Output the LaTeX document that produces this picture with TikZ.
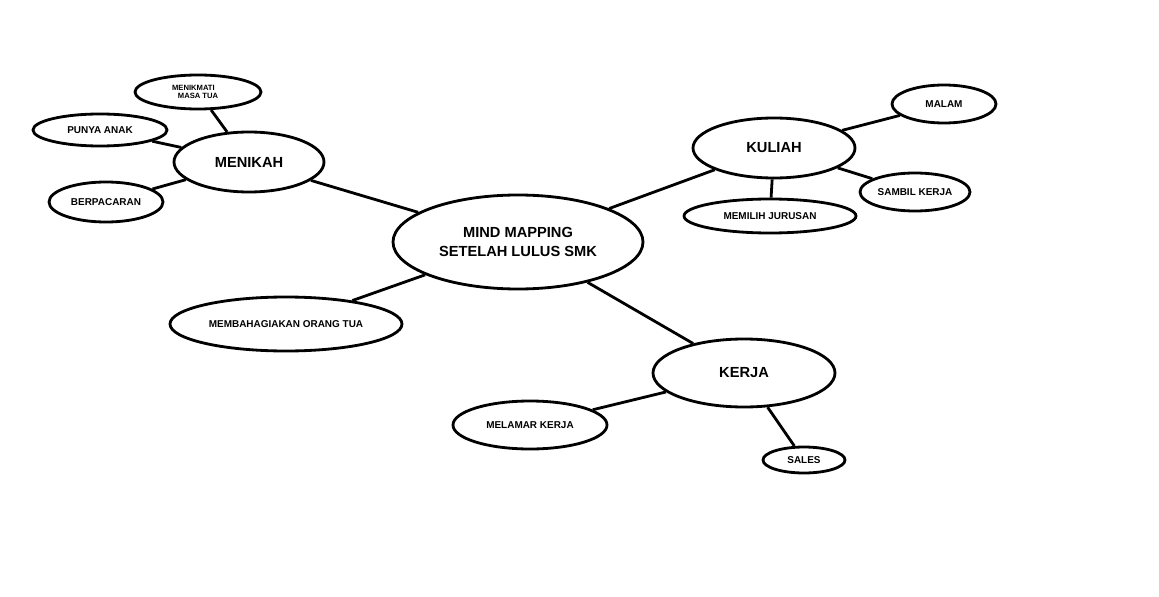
\documentclass[tikz,border=0pt]{standalone}
\usepackage{fontspec}
\setmainfont{Liberation Sans}
\usetikzlibrary{shapes.geometric}
\begin{document}
\begin{tikzpicture}[x=0.03cm,y=-0.03cm,
  ell/.style={ellipse,draw,line width=2.4pt,inner sep=0pt,font=\bfseries,align=center},
  con/.style={line width=2.4pt}]
\useasboundingbox (0,0) rectangle (1159,597);
\newcommand{\E}[6]{\node[ell,minimum width=#4*0.06cm,minimum height=#5*0.06cm,font=\bfseries#6] (#1) at (#2,#3)}
\E{c}{518}{242}{125}{47}{\fontsize{12.5}{16}\selectfont}{MIND MAPPING\\SETELAH LULUS SMK};
\E{men}{249}{162}{75}{30}{\fontsize{12.5}{15}\selectfont}{MENIKAH};
\E{tua}{198}{92}{63}{17}{\fontsize{6.5}{7.5}\selectfont}{\hspace*{-1.2em}MENIKMATI\\MASA TUA};
\E{anak}{100}{130}{67}{16}{\fontsize{8.5}{10}\selectfont}{PUNYA ANAK};
\E{pac}{106}{202}{57}{20}{\fontsize{8.5}{10}\selectfont}{BERPACARAN};
\E{ortu}{286}{324}{116}{27}{\fontsize{8.5}{10}\selectfont}{MEMBAHAGIAKAN ORANG TUA};
\E{kul}{774}{148}{81}{30}{\fontsize{12.5}{15}\selectfont}{KULIAH};
\E{mal}{944}{104}{52}{19}{\fontsize{8.5}{10}\selectfont}{MALAM};
\E{sam}{915}{192}{55}{19}{\fontsize{8.5}{10}\selectfont}{SAMBIL KERJA};
\E{jur}{770}{216}{86}{17}{\fontsize{8.5}{10}\selectfont}{MEMILIH JURUSAN};
\E{ker}{744}{373}{91}{34}{\fontsize{12.5}{15}\selectfont}{KERJA};
\E{mel}{530}{425}{77}{24}{\fontsize{8.5}{10}\selectfont}{MELAMAR KERJA};
\E{sal}{804}{460}{41}{13}{\fontsize{8.5}{10}\selectfont}{SALES};
\draw[con] (c) -- (men);
\draw[con] (c) -- (kul);
\draw[con] (c) -- (ker);
\draw[con] (c) -- (ortu);
\draw[con] (men) -- (tua);
\draw[con] (men) -- (anak);
\draw[con] (men) -- (pac);
\draw[con] (kul) -- (mal);
\draw[con] (kul) -- (sam);
\draw[con] (kul) -- (jur);
\draw[con] (ker) -- (mel);
\draw[con] (ker) -- (sal);
\end{tikzpicture}
\end{document}
